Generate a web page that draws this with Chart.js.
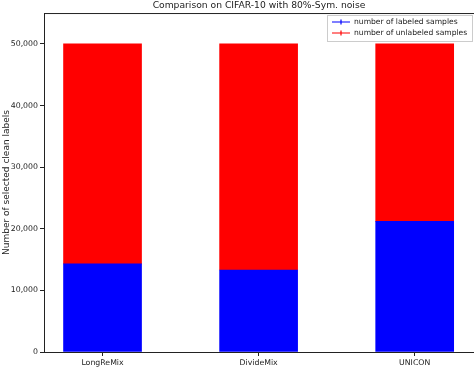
<!DOCTYPE html>
<html>
<head>
<meta charset="utf-8">
<script src="https://cdn.jsdelivr.net/npm/chart.js@4"></script>
<style>
  html, body { margin: 0; padding: 0; background: #fff; }
  #wrap { width: 474px; height: 374px; }
</style>
</head>
<body>
<div id="wrap"><canvas id="myChart"></canvas></div>
<script>
const methods = ['LongReMix', 'DivideMix', 'UNICON'];
const labeled = [14300, 13300, 21200];
const unlabeled = [35700, 36700, 28800];
const yTicks = [0, 10000, 20000, 30000, 40000, 50000];

const FONT = 'DejaVu Sans';

// top spine (right one falls outside the picture) + legend inside the axes
const frameAndLegend = {
    id: 'frameAndLegend',
    afterDraw(chart) {
        const { ctx, chartArea: a } = chart;
        ctx.save();
        ctx.strokeStyle = '#222';
        ctx.lineWidth = 1;
        ctx.beginPath();
        ctx.moveTo(a.left, a.top + 0.5);
        ctx.lineTo(a.right, a.top + 0.5);
        ctx.stroke();

        // legend box
        const bx = 327, by = 15, bw = 145, bh = 26;
        ctx.fillStyle = 'rgba(255,255,255,0.8)';
        ctx.strokeStyle = '#ccc';
        ctx.fillRect(bx, by, bw, bh);
        ctx.strokeRect(bx + 0.5, by + 0.5, bw, bh);
        ctx.font = '7.6px ' + FONT;
        ctx.textBaseline = 'middle';
        chart.data.datasets.forEach((ds, i) => {
            const y = by + 7 + i * 11;
            ctx.strokeStyle = ds.backgroundColor;
            ctx.lineWidth = 1.2;
            ctx.beginPath();
            ctx.moveTo(bx + 5, y);
            ctx.lineTo(bx + 23, y);
            ctx.moveTo(bx + 14, y - 2.5);
            ctx.lineTo(bx + 14, y + 2.5);
            ctx.stroke();
            ctx.fillStyle = '#222';
            ctx.fillText(ds.label, bx + 27, y + 0.5);
        });
        ctx.restore();
    }
};

const ctx = document.getElementById('myChart').getContext('2d');
const myChart = new Chart(ctx, {
    type: 'bar',
    data: {
        datasets: [{
                label: 'number of labeled samples',
                data: labeled.map((v, i) => ({ x: i, y: v })),
                backgroundColor: '#0000ff',
                barThickness: 78,
                stack: 's'
            },
            {
                label: 'number of unlabeled samples',
                data: unlabeled.map((v, i) => ({ x: i, y: v })),
                backgroundColor: '#ff0000',
                barThickness: 78,
                stack: 's'
            }
        ]
    },
    options: {
        responsive: true,
        maintainAspectRatio: false,
        animation: false,
        layout: { padding: 0 },
        plugins: {
            legend: { display: false },
            tooltip: { enabled: false },
            title: {
                display: true,
                fullSize: false,
                text: 'Comparison on CIFAR-10 with 80%-Sym. noise',
                color: '#222',
                font: { family: FONT, size: 9.2, weight: 'normal' },
                padding: { top: 0, bottom: 2 }
            }
        },
        scales: {
            x: {
                type: 'linear',
                stacked: true,
                offset: false,
                min: -0.375,
                max: 2.38,
                grid: { offset: false, drawOnChartArea: false, drawTicks: true, tickLength: 4, color: '#222' },
                border: { display: true, color: '#222' },
                afterBuildTicks: (scale) => { scale.ticks = methods.map((m, i) => ({ value: i })); },
                afterFit: (scale) => { scale.height = 22; },
                ticks: {
                    color: '#222',
                    padding: 2,
                    maxRotation: 0,
                    autoSkip: false,
                    font: { family: FONT, size: 7.8 },
                    callback: (v) => methods[v]
                }
            },
            y: {
                stacked: true,
                min: 0,
                max: 55000,
                grid: { drawOnChartArea: false, drawTicks: true, tickLength: 4, color: '#222' },
                border: { display: true, color: '#222' },
                afterBuildTicks: (scale) => { scale.ticks = yTicks.map(v => ({ value: v })); },
                afterFit: (scale) => { scale.width = 44; },
                ticks: {
                    color: '#222',
                    padding: 2,
                    font: { family: FONT, size: 7.8 },
                    callback: (v) => v.toLocaleString('en-US')
                },
                title: {
                    display: true,
                    text: 'Number of selected clean labels',
                    color: '#222',
                    font: { family: FONT, size: 9 },
                    padding: { top: 1, bottom: 0 }
                }
            }
        }
    },
    plugins: [frameAndLegend]
});
</script>
</body>
</html>
